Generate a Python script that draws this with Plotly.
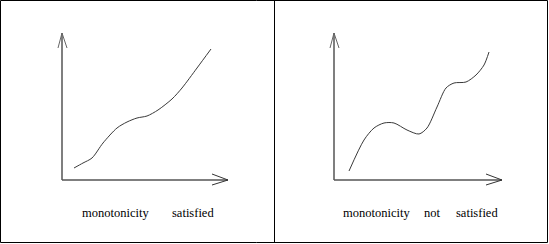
import plotly.graph_objects as go

# ---- data (arbitrary units, origin at the axes corner) ----
left_x = [12, 21, 30, 41, 55, 65, 75, 85, 96, 110, 120, 135, 149]
left_y = [12, 17, 22, 37, 52, 58, 62, 64, 70, 81, 92, 112, 131]

right_x = [15, 30, 40, 50, 60, 73, 85, 93, 103, 112, 120, 132, 142, 150, 155]
right_y = [9, 40, 52, 57, 57, 50, 46, 52, 73, 92, 97, 98, 105, 115, 128]

left_axis_len = (166, 147)
right_axis_len = (168, 147)

left_labels = ["monotonicity", "satisfied"]
left_label_x = [53.5, 130.5]
right_labels = ["monotonicity", "not", "satisfied"]
right_label_x = [42.5, 98.5, 142.5]
label_y = -33

W, H = 549, 244
AXC = "#555555"
CURVEC = "#3a3a3a"
FONT = "Liberation Serif, DejaVu Serif, serif"

fig = go.Figure()

def add_panel(xa, ya, cx, cy, alen, labels, lx):
    ax_len, ay_len = alen
    fig.add_trace(go.Scatter(x=[0, 0], y=[0, ay_len], mode="lines",
                             line=dict(color=AXC, width=1.5), xaxis=xa, yaxis=ya,
                             hoverinfo="skip"))
    fig.add_trace(go.Scatter(x=[0, ax_len], y=[0, 0], mode="lines",
                             line=dict(color=AXC, width=1.5), xaxis=xa, yaxis=ya,
                             hoverinfo="skip"))
    fig.add_trace(go.Scatter(x=[-4, 0, 5], y=[ay_len - 15, ay_len, ay_len - 15], mode="lines",
                             line=dict(color="#666666", width=1), xaxis=xa, yaxis=ya,
                             hoverinfo="skip"))
    fig.add_trace(go.Scatter(x=[ax_len - 16, ax_len, ax_len - 16], y=[6, 0, -5], mode="lines",
                             line=dict(color="#333333", width=1), xaxis=xa, yaxis=ya,
                             hoverinfo="skip"))
    fig.add_trace(go.Scatter(x=cx, y=cy, mode="lines", line=dict(color=CURVEC, width=1, shape="spline", smoothing=0.8),
                             xaxis=xa, yaxis=ya, hoverinfo="skip"))
    for t, x in zip(labels, lx):
        fig.add_annotation(x=x, y=label_y, xref=xa, yref=ya, text=t, showarrow=False,
                           font=dict(family=FONT, size=12.5, color="black"))

add_panel("x", "y", left_x, left_y, left_axis_len, left_labels, left_label_x)
add_panel("x2", "y2", right_x, right_y, right_axis_len, right_labels, right_label_x)

split = 274 / W
hidden = dict(visible=False, showgrid=False, zeroline=False, fixedrange=True)
fig.update_layout(
    width=W, height=H, margin=dict(l=0, r=0, t=0, b=0),
    paper_bgcolor="white", plot_bgcolor="rgba(0,0,0,0)", showlegend=False,
    font=dict(family=FONT),
    xaxis=dict(domain=[0, split], range=[-62, 274 - 62], **hidden),
    yaxis=dict(domain=[0, 1], range=[-64, 180], **hidden),
    xaxis2=dict(domain=[split, 1], range=[274 - 334, W - 334], **hidden),
    yaxis2=dict(domain=[0, 1], range=[-64, 180], anchor="x2", **hidden),
)

fig.add_shape(type="rect", xref="paper", yref="paper",
              x0=0.5 / W, x1=547.5 / W, y0=1 - 242.5 / H, y1=1 - 0.5 / H,
              line=dict(color="black", width=1))
fig.add_shape(type="line", xref="paper", yref="paper",
              x0=274.5 / W, x1=274.5 / W, y0=1 - 242.5 / H, y1=1,
              line=dict(color="black", width=1))

fig.write_html("out.html")
